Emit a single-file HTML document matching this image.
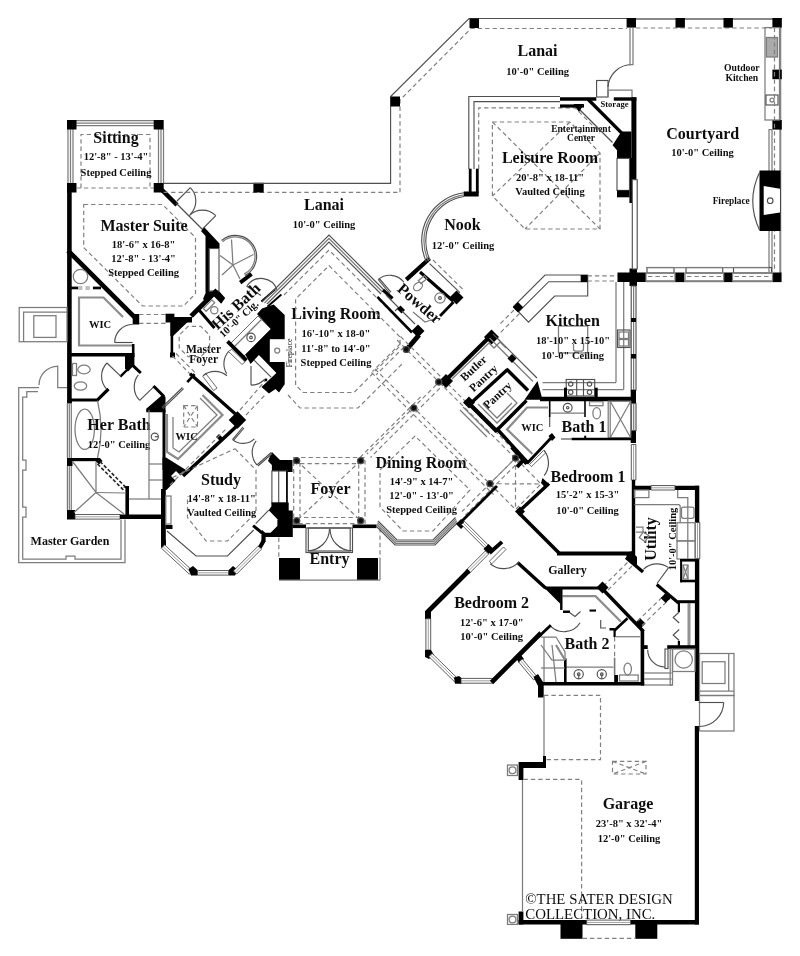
<!DOCTYPE html>
<html><head><meta charset="utf-8"><title>Floor Plan</title>
<style>
html,body{margin:0;padding:0;background:#fff;}
svg{display:block;}
text{font-family:"Liberation Serif",serif;font-weight:bold;fill:#111;}
.t{stroke:#505050;stroke-width:1.15;fill:none;}
.g{stroke:#7c7c7c;stroke-width:1.25;fill:none;}
.G{stroke:#8c8c8c;stroke-width:2.2;fill:none;}
.d{stroke:#808080;stroke-width:1.2;fill:none;stroke-dasharray:4.4 3;}
.D{stroke:#222;stroke-width:1.6;fill:none;stroke-dasharray:3.5 2;}
.b{stroke:#000;stroke-width:1.6;fill:none;}
</style></head><body>
<svg width="800" height="956" viewBox="0 0 800 956">
<rect width="800" height="956" fill="#fff"/>
<defs><filter id="soft" x="0" y="0" width="800" height="956" filterUnits="userSpaceOnUse"><feGaussianBlur stdDeviation="0.45"/></filter></defs>
<g filter="url(#soft)">
<!-- Sitting -->
<line x1="68" y1="129" x2="68" y2="184" class="g"/>
<line x1="70.5" y1="129" x2="70.5" y2="184" class="g"/>
<line x1="73" y1="129" x2="73" y2="184" class="g"/>
<line x1="158.5" y1="129" x2="158.5" y2="184" class="g"/>
<line x1="161" y1="129" x2="161" y2="184" class="g"/>
<line x1="163.5" y1="129" x2="163.5" y2="184" class="g"/>
<line x1="76" y1="120.5" x2="154" y2="120.5" class="g"/>
<line x1="76" y1="123" x2="154" y2="123" class="g"/>
<line x1="76" y1="125.5" x2="154" y2="125.5" class="g"/>
<rect x="67" y="120" width="9.5" height="9.5" fill="#000"/>
<rect x="153.7" y="120" width="10" height="9.5" fill="#000"/>
<rect x="67" y="183" width="9.5" height="9.5" fill="#000"/>
<rect x="153.7" y="183" width="10" height="9.5" fill="#000"/>
<polyline points="81,188 81,134.5 150,134.5 150,188" class="d"/>
<line x1="76.5" y1="188" x2="154" y2="188" class="d"/>
<text x="116" y="143" font-size="16" text-anchor="middle">Sitting</text>
<text x="116" y="160" font-size="10.5" text-anchor="middle">12'-8" - 13'-4"</text>
<text x="116" y="175.5" font-size="10.5" text-anchor="middle">Stepped Ceiling</text>
<!-- Master Suite -->
<line x1="69.4" y1="192" x2="69.4" y2="403" stroke="#000" stroke-width="4.6" stroke-linecap="butt"/>
<line x1="68" y1="250.6" x2="137" y2="319.6" stroke="#000" stroke-width="4.7" stroke-linecap="butt"/>
<line x1="162" y1="190" x2="177" y2="205" stroke="#000" stroke-width="4.5" stroke-linecap="butt"/>
<line x1="176" y1="203" x2="203" y2="230" class="t"/>
<line x1="177" y1="201" x2="190.3" y2="187.7" class="t"/>
<path d="M190.3 187.7A18.8 18.8 0 0 1 190.3 214.3" class="t"/>
<line x1="202.5" y1="229" x2="215.8" y2="215.7" class="t"/>
<path d="M215.8 215.7A18.8 18.8 0 0 0 189.2 215.7" class="t"/>
<polygon points="83.7,204.5 162.5,204.5 195.5,237.5 195.5,293.5 183.5,306 142.5,306 83.7,247.5" class="d"/>
<text x="144" y="230.5" font-size="16" text-anchor="middle">Master Suite</text>
<text x="143.6" y="248.3" font-size="10.5" text-anchor="middle">18'-6" x 16-8"</text>
<text x="143.6" y="262.2" font-size="10.5" text-anchor="middle">12'-8" - 13'-4"</text>
<text x="143.6" y="275.7" font-size="10.5" text-anchor="middle">Stepped Ceiling</text>
<polygon points="201,231 204.5,227.5 219.5,243.5 219.5,248 209.2,248 209.2,292.5 205.5,292.5 205.5,236" fill="#000"/>
<rect x="209.2" y="248.5" width="9.8" height="42.5" class="t"/>
<line x1="163.7" y1="192.3" x2="398" y2="192.3" class="d"/>
<circle cx="80.5" cy="276.5" r="7.2" class="g"/>
<rect x="71" y="286.6" width="7" height="2.7" fill="#000"/>
<rect x="93" y="286.6" width="8" height="2.7" fill="#000"/>
<line x1="78" y1="287" x2="93" y2="287" class="d"/>
<line x1="78" y1="289" x2="93" y2="289" class="d"/>
<rect x="132.7" y="314" width="6.5" height="10.5" fill="#000"/>
<line x1="139" y1="314.5" x2="166" y2="314.5" class="d"/>
<line x1="139" y1="323.3" x2="166" y2="323.3" class="d"/>
<!-- WIC1 -->
<polyline points="134,345.5 79,345.5 79,297.5 103.5,297.5 123,317" class="G"/>
<text x="100" y="328" font-size="10.5" text-anchor="middle">WIC</text>
<line x1="133.2" y1="344" x2="133.2" y2="357" stroke="#000" stroke-width="2.6" stroke-linecap="butt"/>
<line x1="132.7" y1="342.5" x2="114.7" y2="342.5" class="t"/>
<path d="M114.7 342.5A18 18 0 0 1 132.7 324.5" class="t"/>
<line x1="71" y1="354.7" x2="134.4" y2="354.7" stroke="#000" stroke-width="3.4" stroke-linecap="butt"/>
<polygon points="125,356 134.4,356 134.4,365 128,371.5 125,368.5" fill="#000"/>
<!-- toilet -->
<rect x="72.5" y="363.5" width="4" height="12" class="g"/>
<ellipse cx="84" cy="369.5" rx="6.2" ry="4.4" class="g"/>
<ellipse cx="80.5" cy="386" rx="6.2" ry="4.2" class="g"/>
<polyline points="71,400 97.5,400 108.5,389" stroke="#000" stroke-width="3.2" fill="none"/>
<line x1="128" y1="369" x2="120.3" y2="376.6" stroke="#000" stroke-width="2.4" stroke-linecap="butt"/>
<line x1="120.6" y1="376.2" x2="106.9" y2="363" class="t"/>
<path d="M106.9 363A19 19 0 0 0 106.7 389.2" class="t"/>
<line x1="133" y1="365.6" x2="140.8" y2="373" stroke="#000" stroke-width="3" stroke-linecap="butt"/>
<line x1="153.7" y1="386.9" x2="139.7" y2="400.4" class="t"/>
<path d="M139.7 400.4A19.5 19.5 0 0 1 138.3 374.9" class="t"/>
<line x1="153.5" y1="386" x2="164" y2="396.5" stroke="#000" stroke-width="3" stroke-linecap="butt"/>
<polygon points="162.8,394.5 146.2,408.7 146.2,412.2 165.5,412.2 165.5,397" fill="#000"/>
<!-- Her Bath -->
<rect x="67" y="400" width="4.7" height="3.5" fill="#000"/>
<line x1="67.4" y1="403" x2="67.4" y2="458" class="g"/>
<line x1="69.3" y1="403" x2="69.3" y2="458" class="g"/>
<line x1="71.3" y1="403" x2="71.3" y2="458" class="g"/>
<ellipse cx="84.7" cy="429.2" rx="9.7" ry="20.2" class="g"/>
<path d="M97.5 400.5Q104.5 430 97.5 458" class="g"/>
<text x="119" y="430" font-size="16" text-anchor="middle">Her Bath</text>
<text x="119" y="448" font-size="10.5" text-anchor="middle">12'-0" Ceiling</text>
<line x1="149" y1="410" x2="149" y2="499" class="g"/>
<line x1="149" y1="499" x2="162.5" y2="499" class="g"/>
<line x1="149" y1="464" x2="162.5" y2="464" class="g"/>
<line x1="149" y1="480" x2="162.5" y2="480" class="g"/>
<circle cx="154.8" cy="436.7" r="3.6" class="t"/>
<line x1="154.8" y1="436.7" x2="158" y2="436.7" class="t"/>
<line x1="164" y1="410" x2="164" y2="470" stroke="#000" stroke-width="3" stroke-linecap="butt"/>
<line x1="67" y1="459.6" x2="99" y2="459.6" stroke="#000" stroke-width="3.2" stroke-linecap="butt"/>
<rect x="67" y="458" width="5.5" height="8" fill="#000"/>
<polygon points="96,458 100,458 102.5,461 99,464.5 96,461.5" fill="#000"/>
<line x1="100" y1="461.5" x2="126" y2="487.5" class="D"/>
<line x1="97.5" y1="464" x2="123.5" y2="490" class="D"/>
<line x1="127.2" y1="486" x2="127.2" y2="516" stroke="#000" stroke-width="3.6" stroke-linecap="butt"/>
<polygon points="121.5,487 129,487 129,491 125,487.5" fill="#000"/>
<line x1="67.4" y1="466" x2="67.4" y2="510" class="g"/>
<line x1="69.3" y1="466" x2="69.3" y2="510" class="g"/>
<line x1="71.3" y1="466" x2="71.3" y2="510" class="g"/>
<rect x="67" y="510" width="8" height="9.5" fill="#000"/>
<polygon points="75,519.1 120,519.1 120,514.5 75,514.5" fill="#fff" stroke="#333" stroke-width="0.8"/>
<line x1="75" y1="516.8" x2="120" y2="516.8" stroke="#777" stroke-width="0.7"/>
<line x1="120" y1="516.8" x2="163" y2="516.8" stroke="#000" stroke-width="4.6" stroke-linecap="butt"/>
<polyline points="72.5,461.5 96,492.5 96,461.5" class="g"/>
<line x1="96" y1="492.5" x2="126" y2="493" class="g"/>
<line x1="96" y1="492.5" x2="74" y2="512.5" class="g"/>
<line x1="96" y1="492.5" x2="124" y2="514" class="g"/>
<line x1="129" y1="499" x2="149" y2="499" class="g"/>
<!-- garden -->
<polyline points="67,387.5 57.7,387.5 57.7,365.6" class="g"/>
<path d="M57.7 366.3A18.7 18.7 0 0 0 39 385" class="g"/>
<polyline points="39,387.5 18.7,387.5 18.7,562.5 125,562.5 125,519.5" class="g"/>
<polyline points="38,391.5 26.8,391.5 26.8,397.2 22.7,397.2 22.7,460 26,460 26,470 22.7,470 22.7,507 26,507 26,517 22.7,517 22.7,559 66,559 66,556 75,556 75,559 121,559 121,519.5" class="g"/>
<text x="70" y="545" font-size="12" text-anchor="middle">Master Garden</text>
<rect x="19.2" y="307.5" width="47.8" height="34.2" class="g"/>
<polyline points="67,312 23.6,312 23.6,341.7" class="g"/>
<rect x="33.8" y="315.7" width="22.2" height="21.7" class="g"/>
<!-- His bath -->
<polygon points="215.4,288.4 218.8,291.8 192.8,317.8 189.4,314.4" fill="#000"/>
<polygon points="206.2,291.5 219.4,291.5 225.2,298.1 221.2,303.8 213.8,296.2 207,303 203,299" fill="#000"/>
<line x1="199" y1="310" x2="214.5" y2="328" stroke="#000" stroke-width="3" stroke-linecap="butt"/>
<rect x="165.6" y="313.7" width="8.8" height="8.8" fill="#000"/>
<rect x="174" y="317" width="18" height="5.5" fill="#000"/>
<polygon points="174.4,317 190,317 191,318.7 173.1,336 170.4,336 170.4,322.5" fill="#000"/>
<line x1="171.9" y1="322.5" x2="171.9" y2="356" stroke="#000" stroke-width="2.6" stroke-linecap="butt"/>
<rect x="170" y="352.5" width="5" height="5" fill="#000"/>
<line x1="172.5" y1="356" x2="191" y2="375" class="d"/>
<line x1="176" y1="353.5" x2="195" y2="372.5" class="d"/>
<path d="M221.6 240.5A21.2 21.2 0 1 1 244.8 275.6" class="t"/>
<path d="M222.6 241.7A19.6 19.6 0 1 1 244.1 274.1" class="g"/>
<line x1="233" y1="265" x2="231.5" y2="239.5" class="g"/>
<line x1="233" y1="265" x2="253.5" y2="254.5" class="g"/>
<line x1="233" y1="265" x2="220" y2="255.5" class="g"/>
<line x1="233" y1="265" x2="240" y2="279" class="g"/>
<line x1="233" y1="265" x2="222" y2="275" class="g"/>
<line x1="240.2" y1="282.6" x2="251.6" y2="274" stroke="#000" stroke-width="4" stroke-linecap="butt"/>
<path d="M247.1 285.7A17 17 0 0 1 277 289.7" class="t"/>
<line x1="246.5" y1="286" x2="261" y2="295.5" class="t"/>
<g transform="rotate(-45 209 305.6)">
<rect x="203" y="303.6" width="12" height="4" class="g"/>
</g>
<circle cx="214.3" cy="310.3" r="3.6" class="g"/>
<line x1="261.3" y1="301.5" x2="275.3" y2="289.3" stroke="#000" stroke-width="1.9" stroke-linecap="butt"/>
<line x1="267.4" y1="306.8" x2="281.4" y2="294.5" stroke="#000" stroke-width="1.9" stroke-linecap="butt"/>
<polygon points="231,343 258,316 271,329 244,356" fill="#fff" stroke="#444" stroke-width="0.8"/>
<line x1="234.5" y1="346.5" x2="261.5" y2="319.5" class="g"/>
<circle cx="251" cy="337.4" r="4.2" class="t"/>
<circle cx="251" cy="337.4" r="1.3" class="t"/>
<line x1="227.5" y1="341.3" x2="246.5" y2="360.3" stroke="#000" stroke-width="3.8" stroke-linecap="butt"/>
<polygon points="257,314 262,308.5 273.7,304.5 284.7,315 284.7,384.2 279,392.5 275.5,389 268.9,393.4 261.5,386.9 276.4,372.9 258.9,354.9 250.6,364.1 245.3,354.7 271,329" fill="#000"/>
<rect x="269.8" y="339.2" width="15.7" height="22.8" fill="#fff"/>
<circle cx="277.2" cy="350.6" r="2.5" class="g"/>
<line x1="254" y1="360.2" x2="271.1" y2="377.2" class="t"/>
<line x1="251" y1="365.9" x2="251" y2="385.1" class="t"/>
<path d="M251 385.1A19.2 19.2 0 0 0 264.6 379.5" class="t"/>
<rect x="264.6" y="378.6" width="2.6" height="2.6" fill="#000"/>
<text x="292.2" y="353" font-size="7.7" text-anchor="middle" style="font-weight:normal" transform="rotate(-90 292.2 353)">Fireplace</text>
<text x="239.5" y="310" font-size="16" text-anchor="middle" transform="rotate(-43 239.5 310)">His Bath</text>
<text x="241.2" y="321.3" font-size="10.5" text-anchor="middle" transform="rotate(-43 241.2 321.3)">10'-0" Clg.</text>
<text x="203.5" y="352.5" font-size="11.5" text-anchor="middle">Master</text>
<text x="203.7" y="362.5" font-size="11.5" text-anchor="middle">Foyer</text>
<polygon points="209.6,347.8 200.7,356.7 188.1,356.7 179.2,347.8 179.2,335.2 188.1,326.3 200.7,326.3 209.6,335.2" class="d"/>
<line x1="187.3" y1="382.2" x2="194.6" y2="374.2" stroke="#000" stroke-width="2.6" stroke-linecap="butt"/>
<polygon points="202.7,376.2 205.6,373.4 217,388 213.5,390.6" fill="#fff" stroke="#444" stroke-width="0.8"/>
<path d="M203 375.8A18.6 18.6 0 0 1 227 375.8" class="t"/>
<polygon points="228.3,351.4 231.8,349.4 245,362 242,364.4" fill="#fff" stroke="#444" stroke-width="0.8"/>
<path d="M228.7 351.3A18.6 18.6 0 0 0 226.7 373.6" class="t"/>
<!-- WIC2 -->
<line x1="190" y1="373.7" x2="236" y2="414.5" stroke="#000" stroke-width="3.2" stroke-linecap="butt"/>
<polygon points="237.5,411.2 246.2,420 237.5,428.7 228.7,420" fill="#000"/>
<line x1="240" y1="410" x2="265" y2="381" class="d"/>
<line x1="246" y1="415" x2="265" y2="395" class="d"/>
<line x1="239" y1="424" x2="183" y2="476" stroke="#000" stroke-width="3.6" stroke-linecap="butt"/>
<polygon points="216,437 219,434 223,438 220,441" fill="#000"/>
<polygon points="162.5,457.5 166,457.5 186,470 166.5,490 162.5,490" fill="#000"/>
<polygon points="171,476 176,471 181,476 176,481" fill="#fff"/>
<polyline points="167,414 167,452 178,459 222.5,415 202.5,395" class="G"/>
<polyline points="173,417 173,448 179,452 217,415 200,398" class="g"/>
<rect x="183.7" y="405.6" width="13.8" height="21.4" class="d"/>
<line x1="183.7" y1="405.6" x2="197.5" y2="427" class="d"/>
<line x1="197.5" y1="405.6" x2="183.7" y2="427" class="d"/>
<text x="186.7" y="439.5" font-size="10.5" text-anchor="middle">WIC</text>
<line x1="161.9" y1="407.5" x2="182.5" y2="387.5" class="t"/>
<line x1="163" y1="408.6" x2="183.6" y2="388.6" class="t"/>
<!-- Study -->
<line x1="163.4" y1="489" x2="163.4" y2="546" stroke="#000" stroke-width="4.8" stroke-linecap="butt"/>
<rect x="165.8" y="496" width="5.2" height="28" class="g"/>
<rect x="165.7" y="525" width="6.8" height="4" fill="#000"/>
<polygon points="161,540 166,540 166,545 161,548" fill="#000"/>
<polygon points="161.4,548.2 189.4,574.2 192.6,570.8 164.6,544.8" fill="#fff" stroke="#333" stroke-width="0.8"/>
<line x1="163" y1="546.5" x2="191" y2="572.5" stroke="#777" stroke-width="0.7"/>
<polygon points="188.5,569 193,566 197.5,570 197.5,575.5 191,575.5" fill="#000"/>
<polygon points="197.5,575.1 228.7,575.1 228.7,570.5 197.5,570.5" fill="#fff" stroke="#333" stroke-width="0.8"/>
<line x1="197.5" y1="572.8" x2="228.7" y2="572.8" stroke="#777" stroke-width="0.7"/>
<polygon points="228.7,570 233,566 238,570 235,575.5 228.7,575.5" fill="#000"/>
<polygon points="236.6,574.1 261.6,549.1 258.4,545.9 233.4,570.9" fill="#fff" stroke="#333" stroke-width="0.8"/>
<line x1="235" y1="572.5" x2="260" y2="547.5" stroke="#777" stroke-width="0.7"/>
<polyline points="167,531 196,556 227.5,556 253.7,530" class="t"/>
<polygon points="271.9,451.9 280,460 292.5,460 292.5,471.9 271.9,471.9 271.9,465 268,461" fill="#000"/>
<rect x="271.9" y="471" width="15.1" height="32" class="t" style="fill:#fff"/>
<line x1="278.7" y1="471" x2="278.7" y2="503" class="t"/>
<line x1="286.9" y1="471" x2="286.9" y2="503" stroke="#000" stroke-width="1.6" stroke-linecap="butt"/>
<polygon points="271.4,502.6 288.7,502.6 288.7,510.4 292.8,510.4 292.8,537.1 263,537.1 262,530 268.8,510.2 271.4,506.2" fill="#000"/>
<polygon points="268.8,510.2 277.4,519.3 277.4,525.9 270.6,532.7 265.1,532.7 255.7,523.7" fill="#fff"/>
<line x1="268.8" y1="510.2" x2="255.7" y2="523.7" class="t"/>
<line x1="253.1" y1="525.6" x2="264.6" y2="535" stroke="#000" stroke-width="3.1" stroke-linecap="butt"/>
<line x1="263.5" y1="535" x2="263.5" y2="542" stroke="#000" stroke-width="4.2" stroke-linecap="butt"/>
<line x1="263.8" y1="540.5" x2="259.8" y2="547.5" stroke="#000" stroke-width="4" stroke-linecap="butt"/>
<line x1="243" y1="427" x2="232.5" y2="439.6" class="t"/>
<path d="M232.5 439.6A16.4 16.4 0 0 0 254.4 438.8" class="t"/>
<line x1="244" y1="428" x2="233.5" y2="440.4" class="t"/>
<line x1="271.2" y1="452.5" x2="256.9" y2="465" class="t"/>
<path d="M256.9 465A19 19 0 0 1 256.2 440.8" class="t"/>
<line x1="272.2" y1="453.5" x2="258" y2="466" class="t"/>
<polyline points="235,448.7 256,470 256,512.5 227.5,541 206,541 187.5,517.5 187.5,496" class="d"/>
<line x1="172.5" y1="477.5" x2="235" y2="448.7" class="d"/>
<line x1="170" y1="485" x2="227" y2="428" class="d"/>
<text x="221" y="484.5" font-size="16" text-anchor="middle">Study</text>
<text x="221.7" y="502" font-size="10.5" text-anchor="middle">14'-8" x 18-11"</text>
<text x="221.7" y="516" font-size="10.5" text-anchor="middle">Vaulted Ceiling</text>
<!-- Foyer -->
<rect x="293.7" y="457.5" width="71.3" height="66.2" class="d"/>
<rect x="300" y="463.7" width="58.7" height="53.8" class="d"/>
<line x1="296.7" y1="460.7" x2="360.7" y2="520.7" class="d"/>
<line x1="360.7" y1="460.7" x2="296.7" y2="520.7" class="d"/>
<circle cx="296.7" cy="460.7" r="3" class="t" style="fill:#111"/>
<circle cx="360.7" cy="460.7" r="3" class="t" style="fill:#111"/>
<circle cx="296.7" cy="520.7" r="3" class="t" style="fill:#111"/>
<circle cx="360.7" cy="520.7" r="3" class="t" style="fill:#111"/>
<text x="330.5" y="494" font-size="16" text-anchor="middle">Foyer</text>
<line x1="292.5" y1="526.3" x2="306" y2="526.3" stroke="#000" stroke-width="3.6" stroke-linecap="butt"/>
<line x1="352.5" y1="526.3" x2="376.5" y2="526.3" stroke="#000" stroke-width="3.6" stroke-linecap="butt"/>
<rect x="306" y="528" width="46.5" height="24.5" class="t"/>
<rect x="308.3" y="528" width="41.9" height="23" class="t"/>
<path d="M307.5 550.7A22 22 0 0 0 329.5 528.7" class="t"/>
<path d="M352 550.7A22 22 0 0 1 330 528.7" class="t"/>
<line x1="278.8" y1="537.5" x2="278.8" y2="558" class="d"/>
<line x1="380" y1="528" x2="380" y2="558" class="d"/>
<rect x="279" y="558" width="21" height="22" fill="#000"/>
<rect x="357" y="558" width="21" height="22" fill="#000"/>
<line x1="279" y1="580" x2="380" y2="580" class="g"/>
<line x1="380" y1="558" x2="380" y2="580" class="g"/>
<text x="329.5" y="563.7" font-size="16" text-anchor="middle">Entry</text>
<!-- Dining -->
<text x="421" y="467.5" font-size="16" text-anchor="middle">Dining Room</text>
<text x="421.6" y="484.5" font-size="10.5" text-anchor="middle">14'-9" x 14-7"</text>
<text x="421.6" y="498.7" font-size="10.5" text-anchor="middle">12'-0" - 13'-0"</text>
<text x="421.6" y="513" font-size="10.5" text-anchor="middle">Stepped Ceiling</text>
<polyline points="376,526 395,545 435,545 457.5,522.5" class="t"/>
<polyline points="376.7,524.3 395.7,543.3 434.3,543.3 456.8,520.8" class="g"/>
<polyline points="377.4,522.6 396.4,541.6 433.6,541.6 456.1,519.1" class="g"/>
<polyline points="378,521 397,540 433,540 455.5,517.5" class="t"/>
<!-- Living -->
<text x="336" y="319" font-size="16" text-anchor="middle">Living Room</text>
<text x="336" y="336.5" font-size="10.5" text-anchor="middle">16'-10" x 18-0"</text>
<text x="336" y="351.5" font-size="10.5" text-anchor="middle">11'-8" to 14'-0"</text>
<text x="336" y="366" font-size="10.5" text-anchor="middle">Stepped Ceiling</text>
<polyline points="262,302 329,235 384,290" class="t"/>
<polyline points="267,304 329,242 381,294" class="t"/>
<polyline points="264.5,303 329,238.5 382.5,292" class="g"/>
<polyline points="284,295 329,250 378,299 403,324" class="d"/>
<polyline points="295.6,385 295.6,299 329,265.6 400,337 400,346 354,392.5 303,392.5 295.6,385" class="d"/>
<polyline points="288,395 300,408 358,408 404,362" class="d"/>
<line x1="377.4" y1="296.8" x2="412" y2="332.5" stroke="#000" stroke-width="2.6" stroke-linecap="butt"/>
<line x1="383" y1="290" x2="392.5" y2="298.5" stroke="#000" stroke-width="3.2" stroke-linecap="butt"/>
<polyline points="386,295 398.5,307.5 395,311" class="t"/>
<polygon points="397,309 400.5,305.5 405,310 401.5,313.5" fill="#000"/>
<polyline points="402,311 415,324" class="t"/>
<polygon points="418,324.5 424.5,331 418,337.5 411.5,331" fill="#000"/>
<line x1="419" y1="335" x2="408" y2="348" stroke="#000" stroke-width="5" stroke-linecap="butt"/>
<text x="324" y="210" font-size="16" text-anchor="middle">Lanai</text>
<text x="324" y="228" font-size="10.5" text-anchor="middle">10'-0" Ceiling</text>
<rect x="253.4" y="182.8" width="10.3" height="9.7" fill="#000"/>
<!-- Powder -->
<line x1="406.3" y1="279.6" x2="429.5" y2="258.5" stroke="#000" stroke-width="4.2" stroke-linecap="butt"/>
<line x1="420" y1="272" x2="453" y2="301" stroke="#000" stroke-width="3" stroke-linecap="butt"/>
<polyline points="429.6,263.7 460,292.6" class="t"/>
<polyline points="433,260 463.5,290" class="d"/>
<polygon points="456.5,290.5 463.5,297.5 456.5,304.5 449.5,297.5" fill="#000"/>
<line x1="453.5" y1="302" x2="440" y2="316" stroke="#000" stroke-width="2.8" stroke-linecap="butt"/>
<line x1="389.8" y1="293.3" x2="378.2" y2="279.5" class="t"/>
<path d="M378.2 279.5A18 18 0 0 1 403.8 282" class="t"/>
<line x1="391" y1="292.2" x2="379.2" y2="278.5" class="t"/>
<ellipse cx="418" cy="286.5" rx="5" ry="3.5" class="g" transform="rotate(-40 418 286.5)"/>
<g transform="rotate(-40 423 280)">
<rect x="419" y="277.5" width="8" height="4" class="g"/>
</g>
<circle cx="440" cy="298" r="5.2" class="g"/>
<circle cx="440" cy="298" r="1.4" class="t"/>
<polyline points="413,312 425,322 437,318" class="g"/>
<text x="416" y="307.5" font-size="16" text-anchor="middle" transform="rotate(41 416 307.5)">Powder</text>
<circle cx="406.3" cy="349.5" r="3" class="t" style="fill:#111"/>
<circle cx="438.8" cy="382" r="3" class="t" style="fill:#111"/>
<circle cx="413.8" cy="408" r="3" class="t" style="fill:#111"/>
<circle cx="515.5" cy="458" r="3" class="t" style="fill:#111"/>
<circle cx="490" cy="483.7" r="3" class="t" style="fill:#111"/>
<line x1="397" y1="340" x2="521" y2="464" class="d"/>
<line x1="375" y1="369" x2="497" y2="491" class="d"/>
<line x1="441.5" y1="379.5" x2="367" y2="454" class="d"/>
<line x1="517" y1="456.5" x2="462" y2="511.5" class="d"/>
<line x1="404" y1="347" x2="376" y2="375" class="d"/>
<line x1="400.5" y1="336.5" x2="524.5" y2="460.5" class="d"/>
<line x1="371.5" y1="372.5" x2="493.5" y2="494.5" class="d"/>
<line x1="445" y1="383" x2="370.5" y2="457.5" class="d"/>
<line x1="520.5" y1="460" x2="465.5" y2="515" class="d"/>
<line x1="400.5" y1="343.5" x2="372.5" y2="371.5" class="d"/>
<polyline points="360,457.5 421,396.5" class="d"/>
<polygon points="380,507 380,470 415,436 470,490 433,531 403,531" class="d"/>
<polyline points="490,483.7 515.5,509.5 541,484 515.5,458 490,483.7" class="d"/>
<line x1="490" y1="483.7" x2="541" y2="484" class="d"/>
<line x1="515.5" y1="458" x2="515.5" y2="509.5" class="d"/>
<!-- Pantry -->
<line x1="446" y1="380" x2="490" y2="336.5" stroke="#000" stroke-width="4" stroke-linecap="butt"/>
<polygon points="446,374 453,381 446,388 439,381" fill="#000"/>
<polygon points="491.5,329.5 499,337 491.5,344.5 484,337" fill="#000"/>
<polyline points="493,334 537,378" class="t"/>
<polyline points="489.5,338 533,381.5" class="g"/>
<polygon points="512,354 516.5,358.5 512,363 507.5,358.5" fill="#000"/>
<polyline points="452,379 489,343 494,348 500,342 506,348" class="g"/>
<line x1="471" y1="403" x2="507.5" y2="369.5" stroke="#000" stroke-width="3.4" stroke-linecap="butt"/>
<line x1="506.5" y1="369" x2="528" y2="390.5" stroke="#000" stroke-width="3.4" stroke-linecap="butt"/>
<line x1="467" y1="401.5" x2="497" y2="431.5" stroke="#000" stroke-width="4.2" stroke-linecap="butt"/>
<polygon points="469,396.5 475,402.5 469,408.5 463,402.5" fill="#000"/>
<line x1="496" y1="431" x2="526.5" y2="400.5" stroke="#000" stroke-width="3.4" stroke-linecap="butt"/>
<polyline points="478,404 497,423 517,403 507,393" class="g"/>
<polyline points="483,404 497,418 512,403" class="g"/>
<polygon points="537.5,381 524.5,399.8 542.5,399.8" fill="#000"/>
<text x="476" y="371" font-size="11.5" text-anchor="middle" transform="rotate(-43 476 371)">Butler</text>
<text x="486" y="381" font-size="11.5" text-anchor="middle" transform="rotate(-43 486 381)">Pantry</text>
<text x="500" y="398" font-size="11.5" text-anchor="middle" transform="rotate(-43 500 398)">Pantry</text>
<polyline points="463,407 490,434" class="g"/>
<polyline points="460,410 487,437" class="g"/>
<!-- Kitchen -->
<rect x="558.5" y="326" width="29.2" height="27" class="g"/>
<path d="M573.5 344v5q0 2 2 2h6q2 0 2-2v-5" class="g"/>
<text x="572.7" y="326" font-size="16" text-anchor="middle">Kitchen</text>
<text x="573" y="344" font-size="10.5" text-anchor="middle">18'-10" x 15-10"</text>
<text x="572.7" y="359" font-size="10.5" text-anchor="middle">10'-0" Ceiling</text>
<polygon points="587.7,275 545,275 513.5,306.5 528.5,322.2 554.7,296 587.7,296" class="t"/>
<polyline points="581,281.7 548.7,281.7 518.7,311.7" class="t"/>
<polygon points="518,302 523.2,307.2 518,312.4 512.8,307.2" fill="#000"/>
<rect x="580.7" y="275" width="7" height="7.2" fill="#000"/>
<line x1="514" y1="310" x2="500" y2="324" class="d"/>
<line x1="519.5" y1="313.5" x2="500" y2="333" class="d"/>
<line x1="587.5" y1="275.8" x2="617.5" y2="275.8" class="d"/>
<line x1="587.5" y1="281" x2="617.5" y2="281" class="d"/>
<rect x="617.5" y="272.5" width="28.5" height="9.5" fill="#000"/>
<rect x="629.5" y="268.5" width="7.5" height="17.5" fill="#000"/>
<line x1="616" y1="282" x2="616" y2="382.5" class="g"/>
<line x1="623.7" y1="282" x2="623.7" y2="389.5" class="g"/>
<line x1="542.5" y1="382.5" x2="616" y2="382.5" class="g"/>
<line x1="542.5" y1="389.5" x2="623.7" y2="389.5" class="g"/>
<rect x="617.5" y="330" width="12.5" height="17.5" class="t"/>
<rect x="619" y="332" width="9.5" height="6.5" class="g"/>
<rect x="619" y="339.5" width="9.5" height="6.5" class="g"/>
<rect x="631.2" y="286" width="4.8" height="104" class="t"/>
<line x1="633.6" y1="286" x2="633.6" y2="390" class="g"/>
<rect x="631" y="318" width="5" height="4" fill="#000"/>
<rect x="631" y="354" width="5" height="4.5" fill="#000"/>
<rect x="566.2" y="379.5" width="28.5" height="16.5" class="t"/>
<rect x="564" y="387.7" width="3" height="10.3" fill="#000"/>
<rect x="594.7" y="387.7" width="3" height="10.3" fill="#000"/>
<circle cx="570.7" cy="384" r="2.2" class="t"/>
<circle cx="589.5" cy="384" r="2.2" class="t"/>
<circle cx="570.7" cy="392.2" r="2.2" class="t"/>
<circle cx="589.5" cy="392.2" r="2.2" class="t"/>
<line x1="576.7" y1="379.5" x2="576.7" y2="396" class="t"/>
<line x1="583.5" y1="379.5" x2="583.5" y2="396" class="t"/>
<line x1="540" y1="399" x2="636" y2="399" stroke="#000" stroke-width="4.5" stroke-linecap="butt"/>
<!-- Bath1 -->
<rect x="630.7" y="390" width="5.3" height="13.5" fill="#000"/>
<rect x="630.7" y="430.5" width="5.3" height="12.5" fill="#000"/>
<rect x="631.5" y="403.5" width="4.5" height="27" class="t"/>
<line x1="633.7" y1="403.5" x2="633.7" y2="430.5" class="g"/>
<line x1="549.7" y1="400" x2="549.7" y2="417" stroke="#000" stroke-width="1.6" stroke-linecap="butt"/>
<line x1="549.7" y1="417" x2="549.7" y2="427" class="t"/>
<line x1="585" y1="400" x2="585" y2="417" stroke="#000" stroke-width="1.6" stroke-linecap="butt"/>
<line x1="550.5" y1="413.2" x2="584" y2="413.2" class="g"/>
<circle cx="567.7" cy="407.7" r="4.4" class="t"/>
<circle cx="567.7" cy="407.7" r="1.2" class="t"/>
<rect x="589.5" y="401.7" width="13.5" height="4" class="g"/>
<ellipse cx="596.7" cy="413.2" rx="3.8" ry="5.7" class="g"/>
<rect x="608.2" y="401.2" width="22.5" height="36.5" class="g"/>
<line x1="610.2" y1="401.2" x2="610.2" y2="437.7" class="g"/>
<line x1="610.2" y1="401.2" x2="630.7" y2="437.7" class="g"/>
<line x1="630.7" y1="401.2" x2="610.2" y2="437.7" class="g"/>
<line x1="571.5" y1="439" x2="631.5" y2="439" stroke="#000" stroke-width="2.6" stroke-linecap="butt"/>
<line x1="561" y1="439" x2="571.5" y2="439" class="t"/>
<rect x="584.2" y="435.7" width="2" height="2.3" fill="#000"/>
<text x="584" y="432.2" font-size="16" text-anchor="middle">Bath 1</text>
<text x="532.3" y="431.2" font-size="10.5" text-anchor="middle">WIC</text>
<polyline points="548,407.5 527,407.5 507,429.4 532.5,454" class="G"/>
<line x1="496.2" y1="428" x2="528" y2="463" stroke="#000" stroke-width="3.4" stroke-linecap="butt"/>
<line x1="512" y1="447" x2="527" y2="463.5" stroke="#000" stroke-width="4.6" stroke-linecap="butt"/>
<line x1="527" y1="463.5" x2="551" y2="438" stroke="#000" stroke-width="2.8" stroke-linecap="butt"/>
<polygon points="548.5,436 552,433 555.5,437.5 552,441" fill="#000"/>
<polygon points="529.5,464.6 543.5,450.5 546,452.5 531.5,466.6" fill="#fff" stroke="#444" stroke-width="0.8"/>
<path d="M543.9 450.1A20.5 20.5 0 0 1 544.2 475.6" class="t"/>
<line x1="524" y1="459.5" x2="517" y2="467" stroke="#000" stroke-width="4" stroke-linecap="butt"/>
<line x1="497" y1="486" x2="459.5" y2="523.5" stroke="#000" stroke-width="2.8" stroke-linecap="butt"/>
<!-- Lanai top -->
<polyline points="163.7,183.3 390.6,183.3 390.6,96.5 469,18.5 628,18.5" class="t"/>
<polyline points="400,192.3 400,100 471,28.5 627,28.5" class="d"/>
<rect x="390.6" y="96.5" width="9.4" height="10" fill="#000"/>
<rect x="469.5" y="18.5" width="9.5" height="9.5" fill="#000"/>
<text x="537.5" y="56" font-size="16" text-anchor="middle">Lanai</text>
<text x="537.7" y="74.5" font-size="10.5" text-anchor="middle">10'-0" Ceiling</text>
<polyline points="468.8,169 468.8,96.5 560,96.5" class="t"/>
<polyline points="474,169 474,101.6 560,101.6" class="t"/>
<polyline points="478.7,169 478.7,107.8 575,107.8 600,133" class="d"/>
<line x1="470.2" y1="168.7" x2="470.2" y2="193" stroke="#000" stroke-width="2.8" stroke-linecap="butt"/>
<line x1="477.3" y1="168.7" x2="477.3" y2="193" stroke="#000" stroke-width="2.8" stroke-linecap="butt"/>
<rect x="463.7" y="191.5" width="15" height="5" fill="#000"/>
<polygon points="492.4,122 570,122 600,153 600,229 525,229 492.4,196" class="d"/>
<line x1="492.4" y1="122" x2="600" y2="229" class="d"/>
<line x1="570" y1="122" x2="492.4" y2="196" class="d"/>
<line x1="600" y1="153" x2="525" y2="229" class="d"/>
<text x="550" y="162.5" font-size="16" text-anchor="middle">Leisure Room</text>
<text x="550" y="181" font-size="10.5" text-anchor="middle">20'-8" x 18-11"</text>
<text x="550" y="195" font-size="10.5" text-anchor="middle">Vaulted Ceiling</text>
<text x="581" y="131.5" font-size="9.5" text-anchor="middle">Entertainment</text>
<text x="581" y="140.5" font-size="9.5" text-anchor="middle">Center</text>
<text x="614.5" y="107" font-size="8.5" text-anchor="middle">Storage</text>
<path d="M464 192.8A48.5 48.5 0 0 0 426.5 262" class="t"/><path d="M464 194.8A46.5 46.5 0 0 0 428.5 261" class="g"/><path d="M464 196.5A45 45 0 0 0 430 260" class="t"/>
<text x="462.5" y="230" font-size="16" text-anchor="middle">Nook</text>
<text x="463" y="248.5" font-size="10.5" text-anchor="middle">12'-0" Ceiling</text>
<line x1="560" y1="99" x2="596.3" y2="99" stroke="#000" stroke-width="3.4" stroke-linecap="butt"/>
<line x1="613.8" y1="99" x2="636.4" y2="99" stroke="#000" stroke-width="3.4" stroke-linecap="butt"/>
<line x1="560" y1="106" x2="584" y2="106" stroke="#000" stroke-width="3.2" stroke-linecap="butt"/>
<line x1="633.9" y1="97.3" x2="633.9" y2="179.7" stroke="#000" stroke-width="5" stroke-linecap="butt"/>
<line x1="630.7" y1="158" x2="630.7" y2="203" stroke="#000" stroke-width="2.6" stroke-linecap="butt"/>
<line x1="588" y1="99.3" x2="621.8" y2="133.1" stroke="#000" stroke-width="3.4" stroke-linecap="butt"/>
<polyline points="578,108 612.5,142.5" class="t"/>
<polygon points="573.5,104 584,104 579,112" fill="#000"/>
<polygon points="621.4,131.5 631.4,131.5 631.4,158.4 617,158.4 617,150.2 612.6,145.2" fill="#000"/>
<rect x="617" y="158.4" width="12.5" height="32" class="t"/>
<rect x="617" y="190.4" width="12.5" height="6.9" fill="#000"/>
<rect x="596.6" y="80.5" width="11.4" height="16.5" class="t"/>
<path d="M608 87A24 24 0 0 1 632 64.5" class="t"/>
<polyline points="630,28 630,64.5 633,64.5 633,28" class="g"/>
<polyline points="608,97 608,90 632,90 632,97" class="g"/>
<!-- Courtyard -->
<line x1="636" y1="19" x2="782" y2="19" stroke="#888" stroke-width="1.8"/>
<line x1="780.3" y1="18" x2="780.3" y2="282" stroke="#888" stroke-width="2"/>
<line x1="646" y1="281.3" x2="781" y2="281.3" stroke="#888" stroke-width="1.8"/>
<line x1="636" y1="28" x2="772" y2="28" class="d"/>
<rect x="626.6" y="18" width="9.4" height="9.6" fill="#000"/>
<rect x="675.5" y="18" width="9.4" height="9.6" fill="#000"/>
<rect x="723.5" y="18" width="9.4" height="9.6" fill="#000"/>
<rect x="772.4" y="18" width="9.4" height="9.6" fill="#000"/>
<rect x="772.4" y="69.6" width="9.4" height="9.6" fill="#000"/>
<rect x="772.4" y="120" width="9.4" height="9.6" fill="#000"/>
<rect x="675" y="272.5" width="9.3" height="9.5" fill="#000"/>
<rect x="723.7" y="272.5" width="9.3" height="9.5" fill="#000"/>
<rect x="772.2" y="272.5" width="9.3" height="9.5" fill="#000"/>
<rect x="765" y="27.6" width="14.5" height="92.4" class="g"/>
<rect x="766.4" y="37.5" width="11.1" height="19.5" fill="#aaa"/>
<rect x="766.4" y="37.5" width="11.1" height="19.5" class="g"/>
<rect x="766" y="95" width="12" height="10" class="t"/>
<circle cx="772" cy="100" r="2" class="g"/>
<line x1="774.5" y1="27.6" x2="774.5" y2="272" class="d"/>
<polyline points="769,272 769,129.5 772.5,129.5" class="g"/>
<polyline points="772,272 772,129.5" class="g"/>
<rect x="759.5" y="170.5" width="21" height="60.5" fill="#000"/>
<polygon points="763.7,186 780,188.7 780,212.5 763.7,215" fill="#fff"/>
<circle cx="770.2" cy="200.7" r="2.8" class="t" style="fill:#fff"/>
<path d="M759.5 172.5Q746 201 759.5 230" class="t"/>
<text x="731.2" y="204" font-size="9.3" text-anchor="middle">Fireplace</text>
<text x="741.8" y="71" font-size="9.7" text-anchor="middle">Outdoor</text>
<text x="741.8" y="80.5" font-size="9.7" text-anchor="middle">Kitchen</text>
<text x="702.7" y="138.5" font-size="16" text-anchor="middle">Courtyard</text>
<text x="702.5" y="155.5" font-size="10.5" text-anchor="middle">10'-0" Ceiling</text>
<rect x="632.3" y="179.7" width="4.9" height="89.3" class="t" style="fill:#fff"/>
<rect x="647" y="267.5" width="27" height="5.5" class="t"/>
<line x1="648" y1="276.5" x2="673" y2="276.5" class="d"/>
<rect x="646" y="273" width="29" height="8" class="g"/>
<rect x="686" y="267.5" width="36.7" height="5.5" class="t"/>
<line x1="687" y1="276.5" x2="721.7" y2="276.5" class="d"/>
<rect x="685" y="273" width="38.7" height="8" class="g"/>
<rect x="733.5" y="267.5" width="38" height="5.5" class="t"/>
<line x1="734.5" y1="276.5" x2="770.5" y2="276.5" class="d"/>
<rect x="732.5" y="273" width="40" height="8" class="g"/>
<polyline points="646,267.5 769,267.5" class="g"/>
<!-- Bedroom1 -->
<polygon points="631.3,444.5 631.3,480 635.9,480 635.9,444.5" fill="#fff" stroke="#333" stroke-width="0.8"/>
<line x1="633.6" y1="444.5" x2="633.6" y2="480" stroke="#777" stroke-width="0.7"/>
<line x1="633.5" y1="480" x2="633.5" y2="556" stroke="#000" stroke-width="3.4" stroke-linecap="butt"/>
<line x1="519" y1="513" x2="559" y2="553" stroke="#000" stroke-width="3.6" stroke-linecap="butt"/>
<line x1="557" y1="553.6" x2="635" y2="553.6" stroke="#000" stroke-width="4" stroke-linecap="butt"/>
<line x1="549" y1="483.5" x2="519.5" y2="511" stroke="#000" stroke-width="3.4" stroke-linecap="butt"/>
<polygon points="542.5,478 549.5,484.5 545.5,488 541,483" fill="#000"/>
<polygon points="520,506.5 525,511.5 520,516.5 515,511.5" fill="#000"/>
<polygon points="626,556 631,551 637,557 637,565 632,562" fill="#000"/>
<text x="588" y="481.5" font-size="16" text-anchor="middle">Bedroom 1</text>
<text x="587.5" y="498" font-size="10.5" text-anchor="middle">15'-2" x 15-3"</text>
<text x="587.5" y="514" font-size="10.5" text-anchor="middle">10'-0" Ceiling</text>
<!-- Utility -->
<line x1="635" y1="487.8" x2="699" y2="487.8" stroke="#000" stroke-width="4.2" stroke-linecap="butt"/>
<polygon points="651,490 675,490 675,485.6 651,485.6" fill="#fff" stroke="#333" stroke-width="0.8"/>
<line x1="651" y1="487.8" x2="675" y2="487.8" stroke="#777" stroke-width="0.7"/>
<line x1="697.1" y1="485.7" x2="697.1" y2="701" stroke="#000" stroke-width="4.4" stroke-linecap="butt"/>
<polygon points="695.2,522.5 695.2,558.7 699.8,558.7 699.8,522.5" fill="#fff" stroke="#333" stroke-width="0.8"/>
<line x1="697.5" y1="522.5" x2="697.5" y2="558.7" stroke="#777" stroke-width="0.7"/>
<text x="656" y="539" font-size="16" text-anchor="middle" transform="rotate(-90 656 539)">Utility</text>
<text x="675.5" y="539" font-size="10.5" text-anchor="middle" transform="rotate(-90 675.5 539)">10'-0" Ceiling</text>
<polyline points="634.4,504.5 679,504.5 680.2,506 680.2,522.7" class="g"/>
<polyline points="677.7,490 677.7,497.6 687.8,497.6 687.8,559" class="g"/>
<rect x="681.5" y="507" width="12.5" height="11.3" rx="2" class="g"/>
<rect x="677" y="522.7" width="18.3" height="18.2" class="g"/>
<rect x="677" y="540.9" width="18.3" height="18.1" class="g"/>
<rect x="634.4" y="490" width="14.5" height="7.6" class="g"/>
<polyline points="636,527 643,527 643,532 636,532" class="g"/>
<rect x="641" y="533" width="7" height="7" class="g" transform="rotate(35 644 536)"/>
<line x1="681.1" y1="559" x2="681.1" y2="582.3" stroke="#000" stroke-width="2" stroke-linecap="butt"/>
<line x1="680.2" y1="581" x2="696" y2="581" stroke="#000" stroke-width="2.6" stroke-linecap="butt"/>
<line x1="680.2" y1="560.3" x2="696" y2="560.3" stroke="#000" stroke-width="2.6" stroke-linecap="butt"/>
<rect x="683" y="565" width="5" height="14" class="g"/>
<line x1="683" y1="565" x2="688" y2="579" class="g"/>
<line x1="688" y1="565" x2="683" y2="579" class="g"/>
<line x1="657" y1="583.5" x2="668.6" y2="567.6" class="t"/>
<path d="M668.6 567.6A19.7 19.7 0 0 0 643.4 569.3" class="t"/>
<line x1="626" y1="557.5" x2="643" y2="572" stroke="#000" stroke-width="3.4" stroke-linecap="butt"/>
<line x1="627.5" y1="562.5" x2="603.7" y2="586" class="d"/>
<line x1="632" y1="566" x2="608" y2="590" class="d"/>
<polygon points="602.5,581.5 608.5,587.5 602.5,593.5 596.5,587.5" fill="#000"/>
<text x="567.5" y="573.5" font-size="12" text-anchor="middle">Gallery</text>
<line x1="517.5" y1="562.5" x2="545.5" y2="588" stroke="#000" stroke-width="3.4" stroke-linecap="butt"/>
<line x1="545" y1="588" x2="601" y2="588" stroke="#000" stroke-width="3.2" stroke-linecap="butt"/>
<polygon points="543.5,587 560.5,587 560.5,604" fill="#000"/>
<line x1="603" y1="589.5" x2="643.5" y2="631.5" stroke="#000" stroke-width="3.4" stroke-linecap="butt"/>
<polyline points="562.5,596.2 595.5,596.2 621,621.7" class="G"/>
<polygon points="640,618 645.5,623.5 640,629 634.5,623.5" fill="#000"/>
<line x1="642.4" y1="630" x2="642.4" y2="685.5" stroke="#000" stroke-width="3.6" stroke-linecap="butt"/>
<line x1="637.5" y1="621" x2="665.5" y2="594" class="d"/>
<line x1="642" y1="625.5" x2="670" y2="598.5" class="d"/>
<polygon points="665.7,593 670.7,598 665.7,603 660.7,598" fill="#000"/>
<line x1="656.7" y1="584.5" x2="678.5" y2="603" stroke="#000" stroke-width="3" stroke-linecap="butt"/>
<line x1="677.7" y1="601.7" x2="695.5" y2="601.7" stroke="#000" stroke-width="3" stroke-linecap="butt"/>
<line x1="688.2" y1="603" x2="688.2" y2="646" class="g"/>
<line x1="689.8" y1="603" x2="689.8" y2="646" class="g"/>
<line x1="678.9" y1="603" x2="678.9" y2="612" stroke="#000" stroke-width="2.2" stroke-linecap="butt"/>
<line x1="678.9" y1="641" x2="678.9" y2="646" stroke="#000" stroke-width="2.2" stroke-linecap="butt"/>
<polyline points="679.2,612 673.2,617.5 679.2,623" class="t"/>
<polyline points="679.2,629.5 673.2,635 679.2,640.5" class="t"/>
<line x1="667.2" y1="647.1" x2="695.5" y2="647.1" stroke="#000" stroke-width="3.8" stroke-linecap="butt"/>
<rect x="643.2" y="645.2" width="4.5" height="3.8" fill="#000"/>
<path d="M647.7 649.7A17.3 17.3 0 0 0 665 667" class="t"/>
<rect x="665" y="649" width="3" height="19.5" class="t"/>
<line x1="644" y1="673" x2="671.7" y2="673" class="g"/>
<line x1="644" y1="679" x2="671.7" y2="679" class="g"/>
<rect x="670.2" y="649" width="2.3" height="36" class="g"/>
<rect x="672.5" y="649" width="22.5" height="22.5" class="g"/>
<circle cx="683.7" cy="659.5" r="8.7" class="g"/>
<line x1="644" y1="685" x2="672.5" y2="685" class="g"/>
<!-- Bath2 -->
<text x="587" y="648.7" font-size="16" text-anchor="middle">Bath 2</text>
<line x1="614.6" y1="628.5" x2="614.6" y2="637" stroke="#000" stroke-width="2.2" stroke-linecap="butt"/>
<line x1="614.6" y1="637" x2="614.6" y2="657" class="d"/>
<line x1="614.6" y1="657.7" x2="614.6" y2="675" stroke="#777" stroke-width="1.6" stroke-linecap="butt"/>
<rect x="614.2" y="675" width="3.8" height="7.5" fill="#000"/>
<line x1="614.5" y1="630.5" x2="627.5" y2="618.2" stroke="#000" stroke-width="2.6" stroke-linecap="butt"/>
<line x1="615.7" y1="636.7" x2="640.5" y2="636.7" class="g"/>
<line x1="539" y1="683.8" x2="644.2" y2="683.8" stroke="#000" stroke-width="3.4" stroke-linecap="butt"/>
<line x1="566.2" y1="667.2" x2="613.5" y2="667.2" class="g"/>
<circle cx="578.7" cy="674.2" r="4.6" class="t"/>
<circle cx="578.7" cy="674.2" r="1.3" class="t"/>
<line x1="578.7" y1="674.2" x2="578.7" y2="678.5" class="t"/>
<circle cx="601.8" cy="674.2" r="4.6" class="t"/>
<circle cx="601.8" cy="674.2" r="1.3" class="t"/>
<line x1="601.8" y1="674.2" x2="601.8" y2="678.5" class="t"/>
<rect x="619.5" y="675" width="18.7" height="6" class="g"/>
<ellipse cx="627.7" cy="669" rx="3.7" ry="6" class="g"/>
<rect x="589.5" y="609.5" width="6.5" height="2.1" fill="#000"/>
<rect x="563" y="610.5" width="7" height="2.5" fill="#000"/>
<polyline points="600.7,620 600.7,628 606,628" class="t"/>
<rect x="609.5" y="628" width="5" height="2.5" fill="#000"/>
<line x1="561.3" y1="588.7" x2="561.3" y2="610" stroke="#000" stroke-width="2.4" stroke-linecap="butt"/>
<path d="M549.4 624.9A19 19 0 0 0 580.1 622.8" class="t"/>
<polyline points="569.5,612.5 575,616.5 580.5,611.5" class="t"/>
<line x1="565.3" y1="658.5" x2="565.3" y2="683" stroke="#000" stroke-width="2.6" stroke-linecap="butt"/>
<polyline points="541,637 556,637 565,652 565,660" class="g"/>
<polyline points="541,645 552,660 565,660" class="g"/>
<polyline points="544,637 544,682" class="g"/>
<polyline points="541,668 565,668" class="g"/>
<polyline points="552,645 556,682" class="g"/>
<line x1="556" y1="645" x2="565" y2="660" stroke="#888" stroke-width="2.2" stroke-linecap="butt"/>
<polygon points="516,658 521,655 524,659 519,663" fill="#000"/>
<polygon points="518.7,662 533.7,680 537.3,677 522.3,659" fill="#fff" stroke="#333" stroke-width="0.8"/>
<line x1="520.5" y1="660.5" x2="535.5" y2="678.5" stroke="#777" stroke-width="0.7"/>
<polygon points="533.5,677 538,674 543.7,683 543.7,697.5 538,697.5 538,686" fill="#000"/>
<!-- Bedroom2 -->
<polygon points="456,524 461,519 466,524 461,529" fill="#000"/>
<polygon points="461.4,524.6 486.4,549.6 489.6,546.4 464.6,521.4" fill="#fff" stroke="#333" stroke-width="0.8"/>
<line x1="463" y1="523" x2="488" y2="548" stroke="#777" stroke-width="0.7"/>
<polygon points="488.5,544 493.5,549 488.5,554 483.5,549" fill="#000"/>
<line x1="489.5" y1="553" x2="502" y2="541.8" stroke="#000" stroke-width="3.8" stroke-linecap="butt"/>
<polygon points="489.3,561.3 503.5,547 506,549.5 491.8,563.8" fill="#fff" stroke="#444" stroke-width="0.8"/>
<path d="M490.2 563.7A20.7 20.7 0 0 0 518.8 562.1" class="t"/>
<polygon points="485.4,550.9 465.9,570.4 469.1,573.6 488.6,554.1" fill="#fff" stroke="#333" stroke-width="0.8"/>
<line x1="487" y1="552.5" x2="467.5" y2="572" stroke="#777" stroke-width="0.7"/>
<line x1="469" y1="570.5" x2="427" y2="612.5" stroke="#000" stroke-width="4.6" stroke-linecap="butt"/>
<rect x="425" y="611" width="6" height="8" fill="#000"/>
<polygon points="425.9,618.7 425.9,650 430.7,650 430.7,618.7" fill="#fff" stroke="#333" stroke-width="0.8"/>
<line x1="428.3" y1="618.7" x2="428.3" y2="650" stroke="#777" stroke-width="0.7"/>
<polygon points="425,650 431,650 434,655 429,659 425,657" fill="#000"/>
<polygon points="428.9,656.6 454.9,682.1 458.1,678.9 432.1,653.4" fill="#fff" stroke="#333" stroke-width="0.8"/>
<line x1="430.5" y1="655" x2="456.5" y2="680.5" stroke="#777" stroke-width="0.7"/>
<polygon points="454,677.5 459,676 461.5,678 461.5,683.7 455,683.7" fill="#000"/>
<polygon points="461,683.2 492.5,683.2 492.5,678.4 461,678.4" fill="#fff" stroke="#333" stroke-width="0.8"/>
<line x1="461" y1="680.8" x2="492.5" y2="680.8" stroke="#777" stroke-width="0.7"/>
<line x1="491.5" y1="682.5" x2="541" y2="633" stroke="#000" stroke-width="4.6" stroke-linecap="butt"/>
<line x1="538" y1="637.2" x2="550.8" y2="625.2" stroke="#000" stroke-width="2.8" stroke-linecap="butt"/>
<text x="491.6" y="607.5" font-size="16" text-anchor="middle">Bedroom 2</text>
<text x="491.7" y="625.5" font-size="10.5" text-anchor="middle">12'-6" x 17-0"</text>
<text x="491.7" y="640" font-size="10.5" text-anchor="middle">10'-0" Ceiling</text>
<!-- Garage -->
<line x1="696.9" y1="726" x2="696.9" y2="924.5" stroke="#000" stroke-width="4.2" stroke-linecap="butt"/>
<line x1="518.6" y1="922.2" x2="698.8" y2="922.2" stroke="#000" stroke-width="4.6" stroke-linecap="butt"/>
<rect x="560.5" y="924" width="22" height="14.8" fill="#000"/>
<rect x="635.3" y="924" width="22" height="14.8" fill="#000"/>
<polygon points="586.6,924.7 630.6,924.7 630.6,920.1 586.6,920.1" fill="#fff" stroke="#333" stroke-width="0.8"/>
<line x1="586.6" y1="922.4" x2="630.6" y2="922.4" stroke="#777" stroke-width="0.7"/>
<line x1="582.5" y1="938.3" x2="635.6" y2="938.3" class="d"/>
<rect x="518.6" y="911.5" width="4.8" height="13" fill="#000"/>
<rect x="507.5" y="914.5" width="9.9" height="9.9" class="g"/>
<circle cx="512.5" cy="919.5" r="3.4" class="g"/>
<line x1="544" y1="696" x2="544" y2="761" class="g"/>
<polygon points="518.6,762 543,762 543,756 546,756 546,768 523.4,768 523.4,780 518.6,780" fill="#000"/>
<rect x="507.5" y="765" width="9.9" height="10.5" class="g"/>
<circle cx="512.5" cy="770.2" r="3.4" class="g"/>
<line x1="522.5" y1="780" x2="522.5" y2="911.5" class="g"/>
<polyline points="544,695.4 600.5,695.4 600.5,759.6 546,759.6" class="d"/>
<polyline points="523.4,779.4 581.6,779.4 581.6,918" class="d"/>
<rect x="612.5" y="761.4" width="33.5" height="12.6" class="d"/>
<line x1="612.5" y1="761.4" x2="646" y2="774" class="d"/>
<line x1="646" y1="761.4" x2="612.5" y2="774" class="d"/>
<text x="628" y="809" font-size="16" text-anchor="middle">Garage</text>
<text x="629" y="826.5" font-size="10.5" text-anchor="middle">23'-8" x 32'-4"</text>
<text x="629" y="842" font-size="10.5" text-anchor="middle">12'-0" Ceiling</text>
<text x="525.3" y="903.5" font-size="15.4" style="font-weight:normal" textLength="147.4" lengthAdjust="spacingAndGlyphs">©THE SATER DESIGN</text>
<text x="525.3" y="918.7" font-size="15.4" style="font-weight:normal" textLength="130" lengthAdjust="spacingAndGlyphs">COLLECTION, INC.</text>
<rect x="699.5" y="653.5" width="34.5" height="42" class="g"/>
<rect x="702.2" y="661.7" width="22.8" height="21.8" class="g"/>
<line x1="728.7" y1="653.5" x2="728.7" y2="691" class="g"/>
<line x1="699.5" y1="691" x2="734" y2="691" class="g"/>
<rect x="699.5" y="695.5" width="34.5" height="35.5" class="g"/>
<line x1="698.7" y1="702.5" x2="723.7" y2="702.5" class="t"/>
<path d="M723.7 702.5A24.5 24.5 0 0 1 699.5 726.5" class="t"/>
<circle cx="406.3" cy="349.5" r="3" class="t" style="fill:#111"/>
<circle cx="438.8" cy="382" r="3" class="t" style="fill:#111"/>
<circle cx="413.8" cy="408" r="3" class="t" style="fill:#111"/>
<circle cx="515.5" cy="458" r="3" class="t" style="fill:#111"/>
<circle cx="490" cy="483.7" r="3" class="t" style="fill:#111"/>
<circle cx="296.7" cy="460.7" r="3" class="t" style="fill:#111"/>
<circle cx="360.7" cy="460.7" r="3" class="t" style="fill:#111"/>
<circle cx="296.7" cy="520.7" r="3" class="t" style="fill:#111"/>
<circle cx="360.7" cy="520.7" r="3" class="t" style="fill:#111"/>
</g>
</svg>
</body></html>
